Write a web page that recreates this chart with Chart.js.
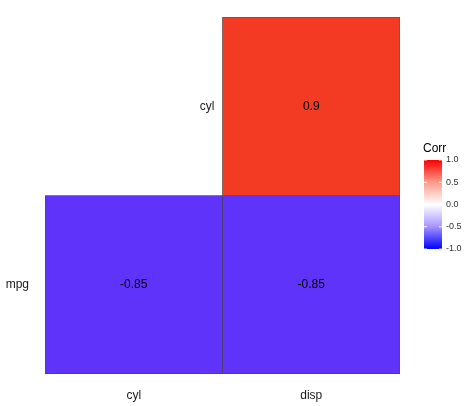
<!DOCTYPE html><html><head><script src="https://cdn.jsdelivr.net/npm/chart.js"></script>
<style>body{margin:0;background:#fff}</style></head><body>
<canvas id="c" width="474" height="406"></canvas>
<script>
const xCats=['cyl','disp'];
const rowLabels=['mpg','cyl'];
const mpgRow=[-0.85,-0.85];
const cylRow=[null,0.9];
const legendTicks=[1.0,0.5,0.0,-0.5,-1.0];
function col(v){
  if(v>=0){const t=v;return `rgb(255,${Math.round(255*(1-t)*0.9+ (1-t)*25)},${Math.round(255*(1-t)*0.9+(1-t)*25)})`;}
  const t=-v;return `rgb(${Math.round(255*(1-t)+40*t)},${Math.round(255*(1-t)+40*t)},255)`;
}
function cellColor(v){ if(v===0.9) return '#F23B22'; if(v===-0.85) return '#6033FA'; return col(v);}
const ds=[
 {data:mpgRow.map(v=>v==null?null:[0,1]),vals:mpgRow,backgroundColor:mpgRow.map(cellColor)},
 {data:cylRow.map(v=>v==null?null:[1,2]),vals:cylRow,backgroundColor:cylRow.map(v=>v==null?'transparent':cellColor(v))}
].map(d=>Object.assign(d,{grouped:false,barPercentage:1,categoryPercentage:1,borderColor:'#333',borderWidth:0.6,borderSkipped:false}));
const plug={id:'p',afterDatasetsDraw(ch){
  const c=ch.ctx,x=ch.scales.x,y=ch.scales.y;
  c.save();c.font='12px "Liberation Sans", Arial';c.fillStyle='#000';c.textAlign='center';c.textBaseline='middle';
  ds.forEach((d,r)=>d.vals.forEach((v,i)=>{if(v!=null)c.fillText(String(v),x.getPixelForValue(i),y.getPixelForValue(r+0.5));}));
  c.fillStyle='#1a1a1a';c.textAlign='right';
  c.fillText(rowLabels[0],ch.chartArea.left-16,y.getPixelForValue(0.5));
  c.fillText(rowLabels[1],x.getPixelForValue(0.5)-8,y.getPixelForValue(1.5));
  c.textAlign='center';
  xCats.forEach((t,i)=>c.fillText(t,x.getPixelForValue(i),ch.chartArea.bottom+22));
  // legend
  const lx=424,lw=18,ty=160,by=249;
  const g=c.createLinearGradient(0,ty,0,by);
  g.addColorStop(0,'#FF0000');g.addColorStop(0.25,'#FF9A88');g.addColorStop(0.5,'#FFFFFF');g.addColorStop(0.75,'#A593FF');g.addColorStop(1,'#0000FF');
  c.fillStyle=g;c.fillRect(lx,ty,lw,by-ty);
  c.textAlign='left';c.fillStyle='#000';c.font='12px "Liberation Sans", Arial';c.fillText('Corr',423,149);
  c.font='9px "Liberation Sans", Arial';c.fillStyle='#333';
  legendTicks.forEach(t=>{const py=ty+(1-t)/2*(by-ty);c.fillText(t.toFixed(1),446,py);
    c.strokeStyle='rgba(255,255,255,0.9)';c.beginPath();c.moveTo(lx,py);c.lineTo(lx+3,py);c.moveTo(lx+lw-3,py);c.lineTo(lx+lw,py);c.stroke();});
  c.restore();}};
new Chart(document.getElementById('c'),{type:'bar',data:{labels:xCats,datasets:ds},plugins:[plug],
 options:{responsive:false,animation:false,layout:{padding:{left:45,right:74,top:17,bottom:32}},
 plugins:{legend:{display:false},tooltip:{enabled:false}},
 scales:{x:{display:false,offset:true,grid:{display:false}},y:{display:false,min:0,max:2}}}});
</script></body></html>
